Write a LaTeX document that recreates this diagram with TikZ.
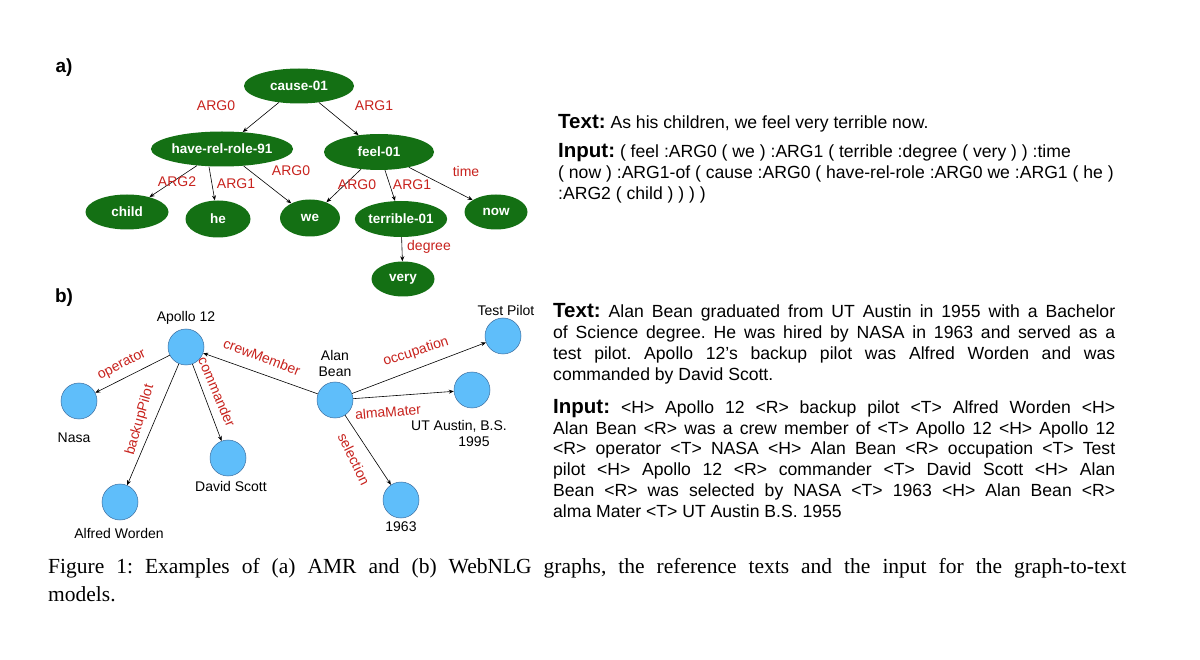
\documentclass[tikz,border=0pt]{standalone}
\usepackage{fontspec}
\setmainfont{Liberation Sans}
\newfontfamily\capfont{Liberation Serif}
\usetikzlibrary{shapes.geometric,arrows.meta}
\definecolor{amrg}{RGB}{20,112,20}
\definecolor{wblue}{RGB}{95,190,250}
\definecolor{wline}{RGB}{60,110,160}
\definecolor{lred}{RGB}{200,35,30}
\begin{document}
\frenchspacing
\begin{tikzpicture}[x=1pt,y=-1pt,
  amr/.style={ellipse,fill=amrg,text=white,font=\bfseries\fontsize{13.5}{14}\selectfont,inner sep=0pt},
  circ/.style={circle,fill=wblue,draw=wline,line width=0.5pt,minimum size=36pt,inner sep=0pt},
  lab/.style={text=lred,font=\fontsize{14}{15}\selectfont,inner sep=1pt},
  nm/.style={font=\fontsize{14}{16}\selectfont,align=center,inner sep=0pt},
  arr/.style={-{Stealth[length=5pt,width=4pt]},line width=0.6pt},
  rt/.style={anchor=west,font=\fontsize{17.6}{21}\selectfont,inner sep=0pt},
  hd/.style={font=\bfseries\fontsize{20.5}{21}\selectfont}]
\useasboundingbox (0,0) rectangle (1200,660);
\fill[white] (0,0) rectangle (1200,660);
\node[font=\bfseries\fontsize{19}{20}\selectfont] (la) at (64,68) {a)};
\node[amr,minimum width=110pt,minimum height=35pt] (cause) at (299,86) {cause-01};
\node[amr,minimum width=128pt,minimum height=35pt] (hrr) at (222,149) {have-rel-role-91};
\node[amr,minimum width=110pt,minimum height=36pt] (feel) at (379,152) {feel-01};
\node[amr,minimum width=83pt,minimum height=35pt] (child) at (127,212) {child};
\node[amr,minimum width=65pt,minimum height=37pt] (he) at (218,219) {he};
\node[amr,minimum width=60pt,minimum height=37pt] (we) at (310,218) {we};
\node[amr,minimum width=80pt,minimum height=36pt] (terr) at (401,219) {terrible-01};
\node[amr,minimum width=63pt,minimum height=35pt] (now) at (496,212) {now};
\node[amr,minimum width=63pt,minimum height=35pt] (very) at (403,279) {very};
\draw[arr] (cause) -- (hrr);
\draw[arr] (cause) -- (feel);
\draw[arr] (hrr) -- (child);
\draw[arr] (hrr.south) ++(-13,0) coordinate (h1) (h1) -- (he);
\draw[arr] (hrr) -- (we);
\draw[arr] (feel) -- (we);
\draw[arr] (feel) -- (terr);
\draw[arr] (feel) -- (now);
\draw[arr] (terr) -- (very);
\node[lab] (l1) at (216,106) {ARG0};
\node[lab] (l2) at (374,106) {ARG1};
\node[lab] (l3) at (177,182) {ARG2};
\node[lab] (l4) at (236,184) {ARG1};
\node[lab] (l5) at (291,171) {ARG0};
\node[lab] (l6) at (357,185) {ARG0};
\node[lab] (l7) at (412,185) {ARG1};
\node[lab] (l8) at (466,171) {time};
\node[lab] (l9) at (429,247) {degree};

\node[rt] (t1) at (558,123) {\textbf{\fontsize{20.5}{21}\selectfont Text:} As his children, we feel very terrible now.};
\node[rt] (t2) at (558,153) {\textbf{\fontsize{20.5}{21}\selectfont Input:} ( feel :ARG0 ( we ) :ARG1 ( terrible :degree ( very ) ) :time};
\node[rt] (t3) at (558,174) {( now ) :ARG1-of ( cause :ARG0 ( have-rel-role :ARG0 we :ARG1 ( he )};
\node[rt] (t4) at (558,195) {:ARG2 ( child ) ) ) )};

\node[font=\bfseries\fontsize{19}{20}\selectfont] (lb) at (64,298) {b)};
\node[circ] (ap) at (186,347) {};
\node[circ] (na) at (79,401) {};
\node[circ] (aw) at (120,502) {};
\node[circ] (ds) at (228,458) {};
\node[circ] (ab) at (335,400) {};
\node[circ] (tp) at (503,336) {};
\node[circ] (ut) at (472,390) {};
\node[circ] (y63) at (401,500) {};
\node[nm] (apl) at (186,318) {Apollo 12};
\node[nm] (nal) at (74,438) {Nasa};
\node[nm] (awl) at (119,533) {Alfred Worden};
\node[nm] (dsl) at (231,486) {David Scott};
\node[nm] (abl) at (335,363) {Alan\\Bean};
\node[nm] (tpl) at (506,310) {Test Pilot};
\node[nm] (utl) at (459,433) {UT Austin, B.S.\\\hspace*{30pt}1995};
\node[nm] (y63l) at (401,527) {1963};
\draw[arr] (ap) -- (na);
\draw[arr] (ap) -- (aw);
\draw[arr] (ap) -- (ds);
\draw[arr] (ab) -- (ap);
\draw[arr] (ab) -- (tp);
\draw[arr] (ab) -- (ut);
\draw[arr] (ab) -- (y63);
\node[lab,rotate=27] (e1) at (122,365) {operator};
\node[lab,rotate=74] (e2) at (140,420) {backupPilot};
\node[lab,rotate=-67] (e3) at (217,392) {commander};
\node[lab,rotate=-21] (e4) at (262,357) {crewMember};
\node[lab,rotate=18] (e5) at (416,352) {occupation};
\node[lab,rotate=5] (e6) at (388,412) {almaMater};
\node[lab,rotate=-64] (e7) at (354,459) {selection};

\node[anchor=north west,text width=562pt,align=justify,font=\fontsize{17.6}{21}\selectfont,inner sep=0pt] (tb) at (553,303) {\textbf{\fontsize{20.5}{21}\selectfont Text:} Alan Bean graduated from UT Austin in 1955 with a Bachelor\linebreak of Science degree. He was hired by NASA in 1963 and served as a\linebreak test pilot. Apollo 12's backup pilot was Alfred Worden and was\linebreak commanded by David Scott.};
\node[anchor=north west,text width=562pt,align=justify,font=\fontsize{17.6}{20.8}\selectfont,inner sep=0pt] (ib) at (553,399) {\textbf{\fontsize{20.5}{21}\selectfont Input:} <H> Apollo 12 <R> backup pilot <T> Alfred Worden <H>\linebreak Alan Bean <R> was a crew member of <T> Apollo 12 <H> Apollo 12\linebreak <R> operator <T> NASA <H> Alan Bean <R> occupation <T> Test\linebreak pilot <H> Apollo 12 <R> commander <T> David Scott <H> Alan\linebreak Bean <R> was selected by NASA <T> 1963 <H> Alan Bean <R>\linebreak alma Mater <T> UT Austin B.S. 1955};

\node[anchor=north west,text width=1078pt,align=justify,font=\capfont\fontsize{21.5}{28}\selectfont,inner sep=0pt] (cap) at (48,558) {Figure 1: Examples of (a) AMR and (b) WebNLG graphs, the reference texts and the input for the graph-to-text\linebreak models.};
\end{tikzpicture}
\end{document}
